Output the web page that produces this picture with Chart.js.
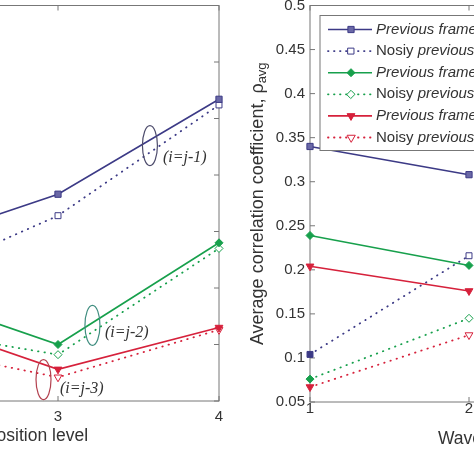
<!DOCTYPE html>
<html lang="en">

<head>
    <meta charset="UTF-8">
    <title>Average correlation coefficient vs wavelet decomposition level</title>
    <script src="https://cdn.jsdelivr.net/npm/chart.js"></script>
    <style>
        * {
            margin: 0;
            padding: 0;
            box-sizing: border-box;
        }

        body {
            width: 474px;
            height: 474px;
            overflow: hidden;
            background: #fff;
            position: relative;
        }

        .panel {
            position: absolute;
            top: 0;
            height: 474px;
        }

        /* both panels are wider than the window: the picture is a crop */
        #leftPanel {
            left: -340px;
            width: 580px;
        }

        #rightPanel {
            left: 240px;
            width: 600px;
        }
    </style>
</head>

<body>
    <div class="panel" id="leftPanel"><canvas id="leftChart"></canvas></div>
    <div class="panel" id="rightPanel"><canvas id="rightChart"></canvas></div>

    <script>
        const levels = [1, 2, 3, 4];

        // left panel, level 1 lies outside the cropped picture
        const leftPrev1 = [null, 0.235, 0.283, 0.367];
        const leftNoisy1 = [null, 0.201, 0.264, 0.362];
        const leftPrev2 = [null, 0.199, 0.150, 0.240];
        const leftNoisy2 = [null, 0.165, 0.141, 0.235];
        const leftPrev3 = [null, 0.177, 0.128, 0.165];
        const leftNoisy3 = [null, 0.150, 0.121, 0.163];

        // right panel, levels 3 and 4 lie outside the cropped picture
        const rightPrev1 = [0.340, 0.308, null, null];
        const rightNoisy1 = [0.104, 0.216, null, null];
        const rightPrev2 = [0.239, 0.205, null, null];
        const rightNoisy2 = [0.076, 0.145, null, null];
        const rightPrev3 = [0.204, 0.176, null, null];
        const rightNoisy3 = [0.067, 0.126, null, null];

        const seriesNames = [
            'Previous frame (i=j-1)', 'Nosiy previous frame (i=j-1)',
            'Previous frame (i=j-2)', 'Noisy previous frame (i=j-2)',
            'Previous frame (i=j-3)', 'Noisy previous frame (i=j-3)'
        ];
        const noteLabels = ['(i=j-1)', '(i=j-2)', '(i=j-3)'];

        const xTitle = 'Wavelet decomposition level';
        const yTitleMain = 'Average correlation coefficient, \u03c1';
        const yTitleSub = 'avg';

        const FONT = '"Liberation Sans", Arial, Helvetica, sans-serif';
        const SERIF = '"Liberation Serif", "Times New Roman", serif';
        const TEXT = '#333';
        const AXIS = '#777';
        const BLUE = '#3c3a86';
        const GREEN = '#17a04c';
        const RED = '#d6213b';

        Chart.defaults.font.family = FONT;
        Chart.defaults.color = TEXT;

        const styles = [
            { color: BLUE, fill: '#6a68a6', pointStyle: 'rect', radius: 4.4, rotation: 0, dotted: false },
            { color: BLUE, fill: '#fff', pointStyle: 'rect', radius: 4.2, rotation: 0, dotted: true },
            { color: GREEN, fill: GREEN, pointStyle: 'rectRot', radius: 4, rotation: 0, dotted: false },
            { color: GREEN, fill: '#fff', pointStyle: 'rectRot', radius: 4, rotation: 0, dotted: true },
            { color: RED, fill: RED, pointStyle: 'triangle', radius: 4.5, rotation: 180, dotted: false },
            { color: RED, fill: '#fff', pointStyle: 'triangle', radius: 4.5, rotation: 180, dotted: true }
        ];

        function makeDataset(values, i, fills) {
            const s = styles[i];
            return {
                label: seriesNames[i],
                data: levels.map((lv, k) => ({ x: lv, y: values[k] })),
                borderColor: s.color,
                borderWidth: s.dotted ? 1.8 : 1.6,
                borderDash: s.dotted ? [0.5, 6] : [],
                borderCapStyle: s.dotted ? 'round' : 'butt',
                pointStyle: s.pointStyle,
                pointRadius: s.radius,
                pointRotation: s.rotation,
                pointBorderWidth: 1,
                pointBorderColor: s.color,
                pointBackgroundColor: fills || s.fill,
                fill: false,
                tension: 0,
                clip: false
            };
        }

        // MATLAB-like box with inward tick marks on all four sides
        const matlabAxes = {
            id: 'matlabAxes',
            beforeDatasetsDraw(chart) {
                const { ctx, chartArea: a, scales } = chart;
                const len = 5;
                ctx.save();
                ctx.strokeStyle = AXIS;
                ctx.lineWidth = 1;
                ctx.strokeRect(a.left, a.top, a.right - a.left, a.bottom - a.top);
                ctx.beginPath();
                scales.x.ticks.forEach(t => {
                    const px = scales.x.getPixelForValue(t.value);
                    ctx.moveTo(px, a.bottom);
                    ctx.lineTo(px, a.bottom - len);
                    ctx.moveTo(px, a.top);
                    ctx.lineTo(px, a.top + len);
                });
                scales.y.ticks.forEach(t => {
                    const py = scales.y.getPixelForValue(t.value);
                    ctx.moveTo(a.left, py);
                    ctx.lineTo(a.left + len, py);
                    ctx.moveTo(a.right, py);
                    ctx.lineTo(a.right - len, py);
                });
                ctx.stroke();
                ctx.restore();
            }
        };

        // ellipses with (i=j-k) labels, placed in data coordinates
        const notes = [
            { label: noteLabels[0], x: 3.571, y: 0.326, tx: 3.652, ty: 0.315, color: '#4d4c6c' },
            { label: noteLabels[1], x: 3.214, y: 0.167, tx: 3.292, ty: 0.160, color: '#3f8d7f' },
            { label: noteLabels[2], x: 2.910, y: 0.119, tx: 3.012, ty: 0.111, color: '#b3414f' }
        ];

        const noteMarks = {
            id: 'noteMarks',
            afterDatasetsDraw(chart) {
                const { ctx, scales: { x, y } } = chart;
                ctx.save();
                notes.forEach(n => {
                    ctx.strokeStyle = n.color;
                    ctx.lineWidth = 1.2;
                    ctx.beginPath();
                    ctx.ellipse(x.getPixelForValue(n.x), y.getPixelForValue(n.y), 7.5, 20, 0, 0, Math.PI * 2);
                    ctx.stroke();
                    ctx.fillStyle = TEXT;
                    ctx.font = 'italic 16px ' + SERIF;
                    ctx.textAlign = 'left';
                    ctx.textBaseline = 'middle';
                    ctx.fillText(n.label, x.getPixelForValue(n.tx), y.getPixelForValue(n.ty));
                });
                ctx.restore();
            }
        };

        function drawMarker(ctx, s, px, py) {
            ctx.fillStyle = s.fill;
            ctx.strokeStyle = s.color;
            ctx.lineWidth = 1;
            ctx.setLineDash([]);
            if (Chart.helpers && Chart.helpers.drawPoint) {
                Chart.helpers.drawPoint(ctx, { pointStyle: s.pointStyle, radius: s.radius, rotation: s.rotation, borderWidth: 1 }, px, py);
            }
        }

        // legend box in the upper left of the right panel
        const boxLegend = {
            id: 'boxLegend',
            afterDraw(chart) {
                const { ctx, chartArea: a } = chart;
                const x0 = a.left + 10;
                const y0 = a.top + 10;
                const rowH = 21.6;
                ctx.save();
                ctx.fillStyle = '#fff';
                ctx.fillRect(x0, y0, 320, 135);
                ctx.strokeStyle = AXIS;
                ctx.lineWidth = 1;
                ctx.strokeRect(x0, y0, 320, 135);
                chart.data.datasets.forEach((ds, i) => {
                    const s = styles[i];
                    const cy = y0 + 14 + i * rowH;
                    ctx.strokeStyle = s.color;
                    ctx.lineWidth = s.dotted ? 1.8 : 1.6;
                    ctx.lineCap = s.dotted ? 'round' : 'butt';
                    ctx.setLineDash(s.dotted ? [0.5, 5.5] : []);
                    ctx.beginPath();
                    ctx.moveTo(x0 + 8, cy);
                    ctx.lineTo(x0 + 52, cy);
                    ctx.stroke();
                    drawMarker(ctx, s, x0 + 31, cy);

                    // first word upright for the noisy series, the rest in italics
                    let tx = x0 + 56;
                    const name = ds.label;
                    const parts = s.dotted
                        ? [[name.slice(0, name.indexOf(' ') + 1), false], [name.slice(name.indexOf(' ') + 1), true]]
                        : [[name, true]];
                    ctx.fillStyle = TEXT;
                    ctx.textAlign = 'left';
                    ctx.textBaseline = 'middle';
                    parts.forEach(([txt, italic]) => {
                        ctx.font = (italic ? 'italic ' : '') + '15px ' + FONT;
                        ctx.fillText(txt, tx, cy);
                        tx += ctx.measureText(txt).width;
                    });
                });
                ctx.restore();
            }
        };

        // y title with a subscript, which the axis title cannot do
        const subTitle = {
            id: 'subTitle',
            afterDraw(chart) {
                const { ctx, chartArea: a, scales: { y } } = chart;
                ctx.save();
                ctx.translate(y.left + 18, (a.top + a.bottom) / 2);
                ctx.rotate(-Math.PI / 2);
                ctx.fillStyle = TEXT;
                ctx.textBaseline = 'middle';
                ctx.textAlign = 'left';
                ctx.font = '18px ' + FONT;
                const w1 = ctx.measureText(yTitleMain).width;
                ctx.font = '13px ' + FONT;
                const w2 = ctx.measureText(yTitleSub).width;
                const start = -(w1 + w2) / 2;
                ctx.font = '18px ' + FONT;
                ctx.fillText(yTitleMain, start, 0);
                ctx.font = '13px ' + FONT;
                ctx.fillText(yTitleSub, start + w1, 4);
                ctx.restore();
            }
        };

        // tick labels may overhang the plot box, as in MATLAB
        function noOverhang(s) {
            s.paddingTop = 0;
            s.paddingBottom = 0;
            s.paddingLeft = 0;
            s.paddingRight = 0;
        }

        function axisOptions(cfg) {
            return {
                x: {
                    type: 'linear',
                    min: 1,
                    max: 4,
                    ticks: { stepSize: 1, padding: cfg.xPad, color: TEXT, font: { size: 15 } },
                    grid: { display: false, drawTicks: false },
                    border: { display: false },
                    title: {
                        display: true,
                        text: xTitle,
                        color: TEXT,
                        font: { size: 17.5 },
                        padding: { top: 0, bottom: cfg.titlePad }
                    },
                    afterFit: s => { s.height = cfg.xHeight; noOverhang(s); }
                },
                y: {
                    min: cfg.yMin,
                    max: cfg.yMax,
                    ticks: {
                        stepSize: 0.05,
                        padding: 5,
                        color: TEXT,
                        font: { size: 15 },
                        // MATLAB style: 0.5, 0.45, 0.4 ...
                        callback: v => String(Number(v.toFixed(2)))
                    },
                    grid: { display: false, drawTicks: false },
                    border: { display: false },
                    afterFit: s => { s.width = cfg.yWidth; noOverhang(s); }
                }
            };
        }

        const common = {
            responsive: true,
            maintainAspectRatio: false,
            animation: false,
            events: []
        };

        new Chart(document.getElementById('leftChart').getContext('2d'), {
            type: 'line',
            data: {
                datasets: [
                    makeDataset(leftPrev1, 0), makeDataset(leftNoisy1, 1),
                    makeDataset(leftPrev2, 2), makeDataset(leftNoisy2, 3),
                    makeDataset(leftPrev3, 4), makeDataset(leftNoisy3, 5)
                ]
            },
            options: {
                ...common,
                layout: { padding: { top: 5, right: 21, bottom: 0, left: 0 } },
                plugins: { legend: { display: false }, tooltip: { enabled: false } },
                scales: axisOptions({ xPad: 7, titlePad: 27, xHeight: 73, yWidth: 76, yMin: 0.1, yMax: 0.45 })
            },
            plugins: [matlabAxes, noteMarks]
        });

        // the noisy markers sitting on the left axis are drawn filled
        new Chart(document.getElementById('rightChart').getContext('2d'), {
            type: 'line',
            data: {
                datasets: [
                    makeDataset(rightPrev1, 0), makeDataset(rightNoisy1, 1, [BLUE, '#fff', '#fff', '#fff']),
                    makeDataset(rightPrev2, 2), makeDataset(rightNoisy2, 3, [GREEN, '#fff', '#fff', '#fff']),
                    makeDataset(rightPrev3, 4), makeDataset(rightNoisy3, 5, [RED, '#fff', '#fff', '#fff'])
                ]
            },
            options: {
                ...common,
                layout: { padding: { top: 5, right: 53, bottom: 0, left: 0 } },
                plugins: { legend: { display: false }, tooltip: { enabled: false } },
                scales: axisOptions({ xPad: -2, titlePad: 24, xHeight: 72, yWidth: 70, yMin: 0.05, yMax: 0.5 })
            },
            plugins: [matlabAxes, boxLegend, subTitle]
        });
    </script>
</body>

</html>
